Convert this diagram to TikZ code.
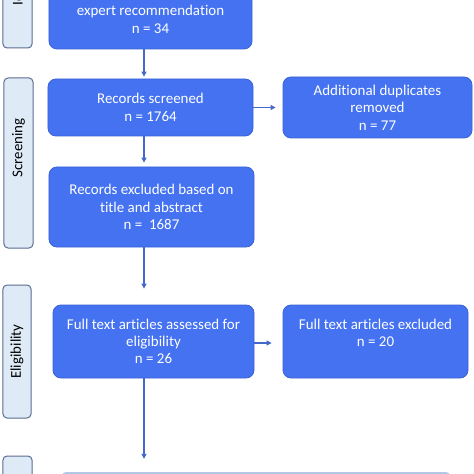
\documentclass[tikz,border=0pt]{standalone}
\usepackage{fontspec}
\setmainfont{Carlito}[Ligatures=NoCommon]
\usetikzlibrary{arrows.meta}
\definecolor{boxblue}{RGB}{68,114,240}
\definecolor{boxedge}{RGB}{58,98,214}
\definecolor{sidefill}{RGB}{222,235,247}
\definecolor{sideedge}{RGB}{90,110,144}
\definecolor{arrowblue}{RGB}{68,104,204}
\definecolor{lastfill}{RGB}{180,199,231}
\begin{document}
\begin{tikzpicture}
[x=1bp,y=-1bp,
bluebox/.style={rectangle,rounded corners=8bp,draw=boxedge,fill=boxblue,text=white,align=center,font=\fontsize{15}{17.4}\selectfont,line width=0.8bp},
sidebox/.style={rectangle,rounded corners=4bp,draw=sideedge,fill=sidefill,line width=1bp},
sidetext/.style={rotate=90,font=\fontsize{15}{17.4}\selectfont},
lastbox/.style={rectangle,rounded corners=4bp,fill=lastfill},
arr/.style={draw=arrowblue,line width=1.1bp,-{Triangle[length=5bp,width=5bp]}}
]
\useasboundingbox (0,0) rectangle (474,474);
\clip (0,0) rectangle (474,474);
\fill[white] (0,0) rectangle (474,474);
\node[sidebox,minimum width=29bp,minimum height=160bp] (identbox) at (17.5,-32) {};
\node[sidetext,anchor=west] at (17.5,9) {Identification};
\node[sidebox,minimum width=29bp,minimum height=170bp] (screenbox) at (18.5,163) {};
\node[sidetext] at (18.5,148) {Screening};
\node[sidebox,minimum width=28bp,minimum height=133bp] (eligbox) at (17,351.5) {};
\node[sidetext] at (17,351.5) {Eligibility};
\node[sidebox,minimum width=29bp,minimum height=80bp] (inclbox) at (17.5,496) {};
\node[bluebox,minimum width=203bp,minimum height=59bp] (ident) at (150.5,19.5) {expert recommendation\\n = 34};
\node[bluebox,minimum width=205bp,minimum height=57bp] (screened) at (150.5,107.5) {Records screened\\n = 1764};
\node[bluebox,minimum width=189bp,minimum height=61bp] (dupl) at (377.5,107.5) {Additional duplicates\\removed\\n = 77};
\node[bluebox,minimum width=205bp,minimum height=80bp] (excl) at (151.5,207) {Records excluded based on\\title and abstract\\n = \ 1687};
\node[bluebox,minimum width=201bp,minimum height=73bp] (full) at (153.5,341.5) {Full text articles assessed for\\eligibility\\n = 26};
\node[bluebox,minimum width=185bp,minimum height=73bp] (ftexcl) at (375.5,341.5) {Full text articles excluded\\n = 20\\\mbox{}};
\node[lastbox,minimum width=388bp,minimum height=60bp] (incl) at (256,502) {};
\coordinate (col) at (144,0);
\draw[arr,shorten >=2bp] (ident.south -| col) -- (screened.north -| col);
\draw[arr,shorten >=4bp] (screened.south -| col) -- (excl.north -| col);
\draw[arr,shorten >=16bp] (excl.south -| col) -- (full.north -| col);
\draw[arr,shorten >=13bp] (full.south -| col) -- (incl.north -| col);
\draw[arr,shorten >=7bp] (screened.east) -- (screened.east -| dupl.west);
\draw[arr,shorten >=11bp] (full.east |- 0,343) -- (ftexcl.west |- 0,343);
\end{tikzpicture}
\end{document}
